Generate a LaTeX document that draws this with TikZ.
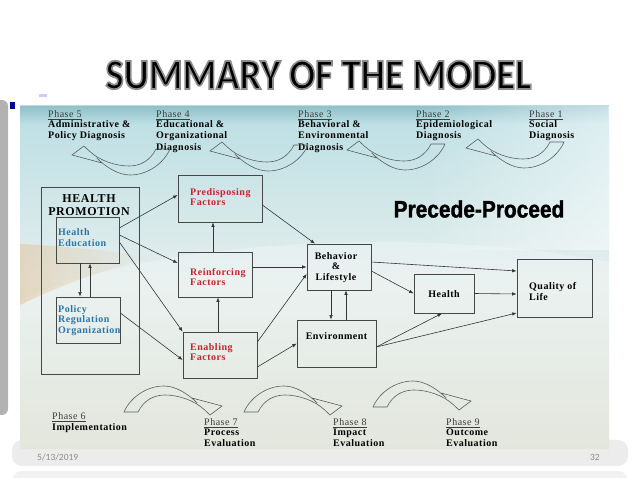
\documentclass[tikz,border=0pt]{standalone}
\usepackage{fontspec}
\setmainfont{Liberation Serif}
\newfontfamily\df[LetterSpace=5]{Liberation Serif}
\newfontfamily\titlef{Carlito}
\newfontfamily\impf[FakeBold=1.6]{Liberation Sans Bold}
\usetikzlibrary{arrows.meta,fadings}
\definecolor{boxln}{RGB}{70,72,72}
\definecolor{connc}{RGB}{50,54,54}
\definecolor{redt}{RGB}{196,36,48}
\definecolor{bluet}{RGB}{42,118,168}
\definecolor{phg}{RGB}{60,60,60}
\definecolor{bgtop}{RGB}{186,222,228}
\definecolor{bgmid}{RGB}{228,238,236}
\definecolor{bgbot}{RGB}{218,222,210}
\definecolor{orng}{RGB}{226,196,158}
\definecolor{tealc}{RGB}{110,170,180}
\definecolor{framegray}{RGB}{236,236,236}
\definecolor{dategray}{RGB}{140,140,140}
\definecolor{cvc}{RGB}{90,95,95}
\tikzset{
  box/.style={draw=boxln, line width=0.7pt, inner sep=0pt},
  conn/.style={draw=connc, line width=0.6pt, -{Latex[length=4.5pt,width=3.5pt]}},
  phl/.style={font=\df\fontsize{10}{11}\selectfont, text=phg, anchor=base west, inner sep=0pt},
  pht/.style={font=\df\bfseries\fontsize{10}{11.4}\selectfont, align=left, anchor=base west, inner sep=0pt},
  phb/.style={font=\df\bfseries\fontsize{10}{10.5}\selectfont, align=left, anchor=base west, inner sep=0pt},
  btxt/.style={font=\df\bfseries\fontsize{10}{10.5}\selectfont, align=left, anchor=base west, inner sep=0pt},
  cvline/.style={draw=cvc, line width=0.6pt},
  cvarrow/.pic={
    \draw[cvline] (0,0) -- (12,-9) -- (17.4,-3.9)
      .. controls (28,6) and (44,11) .. (57,11) .. controls (68,11) and (78,6) .. (84,-6)
      -- (98,-6) .. controls (92,8) and (76,20) .. (58,20)
      .. controls (46,20) and (34,12) .. (24.6,2.9) -- (30,8) -- cycle;
  }
}
\begin{document}
\begin{tikzpicture}[x=1pt,y=-1pt]
\useasboundingbox (0,0) rectangle (638,478);
\fill[white] (0,0) rectangle (638,478);
% slide frame
\fill[framegray, rounded corners=10pt] (12,440) rectangle (628,466);
\fill[framegray!70, rounded corners=10pt] (12,471) rectangle (628,495);
\fill[gray!60, rounded corners=6pt] (-8,100) rectangle (8,415);
\fill[blue!60!black] (10,102) rectangle (15,109);
\fill[blue!20!white] (39,94) rectangle (47,97.5);
% diagram background
\shade[top color=bgtop, bottom color=bgbot, middle color=bgmid] (20,106) rectangle (609,449);
\fill[tealc, opacity=0.55, path fading=south] (20,106) rectangle (609,124);
\fill[white, opacity=0.25] (20,300) .. controls (150,240) and (420,225) .. (609,262) -- (609,449) -- (20,449) -- cycle;
\fill[orng, opacity=0.55, path fading=east] (20,244) .. controls (60,246) and (110,250) .. (150,258) .. controls (110,268) and (60,285) .. (20,305) -- cycle;
\fill[white, opacity=0.5, path fading=west] (420,106) rectangle (609,250);

% title
\node[font=\titlef\bfseries\fontsize{38.5}{40}\selectfont, inner sep=0pt] (title) at (318.5,75)
  {\scalebox{1}[1.12]{\special{pdf:literal direct 0.55 0.55 0.55 RG 1.6 w 2 Tr}SUMMARY OF THE MODEL\special{pdf:literal direct 0 Tr}}};

% phase labels top
\node[phl] (p5l) at (48,118) {\underline{Phase 5}};
\node[pht] (p5t) at (48,138.9) {Administrative \&\\Policy Diagnosis};
\node[phl] (p4l) at (156,118) {\underline{Phase 4}};
\node[pht] (p4t) at (156,150.3) {Educational \&\\Organizational\\Diagnosis};
\node[phl] (p3l) at (298,118) {\underline{Phase 3}};
\node[pht] (p3t) at (298,150.3) {Behavioral \&\\Environmental\\Diagnosis};
\node[phl] (p2l) at (416,118) {\underline{Phase 2}};
\node[pht] (p2t) at (416,138.9) {Epidemiological\\Diagnosis};
\node[phl] (p1l) at (529,118) {\underline{Phase 1}};
\node[pht] (p1t) at (529,138.9) {Social\\Diagnosis};

% phase labels bottom
\node[phl] (p6l) at (52,420) {\underline{Phase 6}};
\node[phb] (p6t) at (52,430.5) {Implementation};
\node[phl] (p7l) at (204,425.5) {\underline{Phase 7}};
\node[phb] (p7t) at (204,446.5) {Process\\Evaluation};
\node[phl] (p8l) at (333,425.5) {\underline{Phase 8}};
\node[phb] (p8t) at (333,446.5) {Impact\\Evaluation};
\node[phl] (p9l) at (446,425.5) {\underline{Phase 9}};
\node[phb] (p9t) at (446,446.5) {Outcome\\Evaluation};

% curved arrows
\pic at (72,155) {cvarrow};
\pic at (210,151) {cvarrow};
\pic at (347,150) {cvarrow};
\pic at (466,148) {cvarrow};
\pic[rotate=180] at (222,406) {cvarrow};
\pic[rotate=180] at (342,406) {cvarrow};
\pic[rotate=180] at (471,401) {cvarrow};

% boxes
\node[box, minimum width=98pt, minimum height=187pt] (hp) at (90,280.5) {};
\node[box, minimum width=63pt, minimum height=46pt] (he) at (87.5,240) {};
\node[box, minimum width=64pt, minimum height=46pt] (pol) at (88,320) {};
\node[box, minimum width=84pt, minimum height=47pt] (pred) at (220,198.5) {};
\node[box, minimum width=74pt, minimum height=45pt] (reinf) at (215,274.5) {};
\node[box, minimum width=74pt, minimum height=46pt] (enab) at (220,355) {};
\node[box, minimum width=64pt, minimum height=46pt] (beh) at (339,267) {};
\node[box, minimum width=79pt, minimum height=47pt] (env) at (336.5,343.5) {};
\node[box, minimum width=60pt, minimum height=39pt] (hlth) at (444,293.5) {};
\node[box, minimum width=75pt, minimum height=58pt] (qol) at (554.5,288) {};

% box texts
\node[font=\df\bfseries\fontsize{12}{13}\selectfont, align=center, anchor=base, inner sep=0pt] (hpt) at (89,215.5) {HEALTH\\PROMOTION};
\node[btxt, text=bluet] (het) at (58,246.5) {Health\\Education};
\node[btxt, text=bluet] (polt) at (58,333.5) {Policy\\Regulation\\Organization};
\node[btxt, text=redt] (predt) at (190,206) {Predisposing\\Factors};
\node[btxt, text=redt] (reinft) at (190,286) {Reinforcing\\Factors};
\node[btxt, text=redt] (enabt) at (190,361) {Enabling\\Factors};
\node[btxt, align=center, anchor=base] (beht) at (336,280.5) {Behavior\\\&\\Lifestyle};
\node[btxt, anchor=center] (envt) at (336.5,336) {Environment};
\node[btxt, anchor=center] (hltht) at (444,294) {Health};
\node[btxt] (qolt) at (529,300.5) {Quality of\\Life};
\node[font=\impf\fontsize{22}{22}\selectfont, inner sep=0pt] (pp) at (479,209) {\scalebox{0.95}[1.08]{Precede-Proceed}};

% connectors
\draw[conn] ([yshift=12pt]he.east) -- ([yshift=3.5pt]pred.west);
\draw[conn] ([yshift=5pt]he.east) -- ([yshift=11.5pt]reinf.west);
\draw[conn] ([yshift=-2pt]he.east) -- (enab.north west);
\draw[conn] ([yshift=7pt]pol.east) -- ([yshift=-5pt]enab.west);
\draw[conn] ([xshift=-7.5pt]he.south) -- ([xshift=-8pt]pol.north);
\draw[conn] ([xshift=2pt]pol.north) -- ([xshift=2.5pt]he.south);
\draw[conn] ([xshift=-2pt]reinf.north) -- ([xshift=-7pt]pred.south);
\draw[conn] ([xshift=-2pt]enab.north) -- ([xshift=3pt]reinf.south);
\draw[conn] ([yshift=-6.5pt]pred.east) -- ([xshift=-24pt]beh.north);
\draw[conn] ([yshift=7.5pt]reinf.east) -- (beh.west);
\draw[conn] ([yshift=13pt]enab.east) -- ([yshift=-7pt]beh.west);
\draw[conn] ([yshift=-12pt]enab.east) -- (env.west);
\draw[conn] ([xshift=-8pt]beh.south) -- ([xshift=-5.5pt]env.north);
\draw[conn] ([xshift=9.5pt]env.north) -- ([xshift=7pt]beh.south);
\draw[conn] ([yshift=5pt]beh.east) -- ([yshift=17pt]qol.west);
\draw[conn] ([yshift=-4pt]beh.east) -- (hlth.west);
\draw[conn] (hlth.east) -- ([yshift=-6pt]qol.west);
\draw[conn] ([yshift=-3.5pt]env.east) -- ([xshift=-2pt]hlth.south);
\draw[conn] ([yshift=-3.5pt]env.east) -- ([yshift=-25pt]qol.west);

% footer
\node[font=\titlef\fontsize{9.5}{10}\selectfont, text=dategray, anchor=base west, inner sep=0pt] (date) at (37,460.5) {5/13/2019};
\node[font=\titlef\fontsize{9.5}{10}\selectfont, text=dategray, anchor=base east, inner sep=0pt] (pgno) at (600,460.5) {32};
\end{tikzpicture}
\end{document}
